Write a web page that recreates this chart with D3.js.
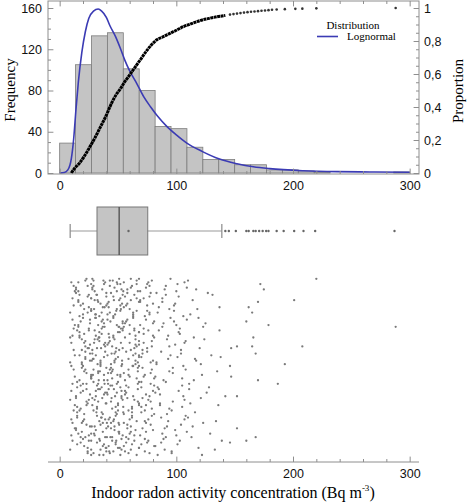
<!DOCTYPE html>
<html>
<head>
<meta charset="utf-8">
<script src="https://cdn.jsdelivr.net/npm/d3@7"></script>
<style>
  body { margin: 0; background: #fff; }
  svg { font-family: "Liberation Serif", "Times New Roman", serif; }
  .axis text { font-size: 12.5px; fill: #111; }
</style>
</head>
<body>
<svg id="chart" width="474" height="503"></svg>
<script>
// histogram counts, 22 bins of equal width over 0-300
const binWidth = 300 / 22;
const binCounts = [29, 105, 133, 136, 101, 80, 45, 43, 25, 13, 13, 8, 8, 3, 3, 2, 1, 0, 0, 0, 0, 1];

// fitted lognormal curve (frequency scale)
const lognormX = [0, 4, 7, 10, 12, 14, 16, 19, 22, 25, 29, 33, 36, 40, 43, 48, 52, 56, 60, 66, 72, 78, 84, 92, 100, 109, 122, 137, 152, 166, 180, 209, 238, 266, 300];
const lognormY = [0, 0.5, 3, 14, 33, 62, 88, 117, 137, 150, 157, 159, 157, 151, 143, 132, 121, 109, 99, 87, 74, 64, 55, 45, 37, 29, 21, 13.5, 9, 6, 4.2, 2.2, 1.3, 1, 0.7];

// cumulative proportion (black dots)
const ecdfX = [10, 13, 17, 21, 26, 30, 35, 40, 43, 48, 52, 56, 60, 65, 69, 75, 83, 90, 95, 100, 106, 113, 120, 128, 135, 142];
const ecdfP = [0, 0.03, 0.06, 0.10, 0.16, 0.21, 0.28, 0.35, 0.40, 0.47, 0.51, 0.555, 0.594, 0.645, 0.685, 0.745, 0.806, 0.83, 0.848, 0.865, 0.887, 0.905, 0.923, 0.937, 0.947, 0.955];
const ecdfTailX = [146, 149, 152, 155, 158, 161, 164, 167, 170, 173, 176, 179, 182, 186, 193, 202, 208, 220, 288];
const ecdfTailP = [0.960, 0.963, 0.966, 0.969, 0.972, 0.975, 0.977, 0.979, 0.981, 0.983, 0.985, 0.987, 0.989, 0.991, 0.993, 0.995, 0.996, 0.998, 1.0];

// box plot: lower whisker, Q1, median, Q3, upper whisker
const boxStats = [9, 32, 51, 75.5, 139];
const meanValue = 59;
const outliers = [142, 145, 151, 160, 162, 166, 168, 171, 174, 177, 179, 186, 192, 201, 209, 219, 287];

// individual measurements: [concentration, vertical jitter 0-100]
const dots = [
  [10,97],[12,71],[9,80],[13,44],[11,8],[10,63],[12,25],[9,52],[11,88],[13,15],[10,36],[12,59],[9,3],[11,67],[13,92],
  [10,20],[12,48],[9,31],[11,76],[13,56],[10,11],[12,84],[11,40],[13,28],[9,66],[12,95],[10,50],[13,73],[11,18],
  [21,47],[16,12],[25,83],[19,65],[27,3],[14,91],[23,28],[17,56],[26,74],[20,19],
  [15,38],[24,95],[18,7],[22,61],[27,44],[16,86],[21,23],[25,70],[14,15],[19,52],
  [23,99],[26,34],[17,67],[20,9],[24,80],[15,41],[22,58],[18,26],[27,88],[21,5],
  [16,73],[25,31],[19,49],[23,17],[14,94],[26,62],[20,36],[17,78],[24,1],[22,55],
  [15,22],[18,84],[27,43],[21,68],[25,11],[16,97],[23,30],[19,59],[26,76],[14,14],
  [20,50],[24,89],[17,25],[22,64],[15,6],[27,81],[18,39],[25,71],[21,20],[16,92],
  [23,46],[19,13],[26,57],[20,85],[14,33],[24,2],[17,69],[22,48],[27,96],[15,27],
  [18,75],[25,8],[21,63],[23,40],[16,87],[19,18],[26,53],[14,32],[20,79],[24,4],
  [17,66],[27,45],[22,98],[15,24],[25,60],[18,10],[21,82],[23,37],[16,72],[26,16],
  [19,51],[14,93],[24,29],[20,77],[17,42],[27,0],[22,54],[15,21],[25,90],[18,35],
  [20,40],[17,90],[24,60],[15,70],[22,10],
  [34,78],[29,1],[38,55],[32,22],[40,84],[27,43],[36,68],[30,11],[39,97],[33,30],
  [28,59],[37,76],[31,14],[35,50],[40,89],[29,25],[34,64],[38,6],[27,81],[32,39],
  [36,71],[39,20],[30,92],[33,46],[37,13],[28,57],[35,85],[31,33],[40,2],[34,69],
  [29,48],[38,96],[32,27],[36,75],[27,8],[39,63],[33,40],[30,87],[37,18],[35,53],
  [28,32],[31,79],[40,4],[34,66],[38,45],[29,98],[36,24],[32,60],[39,10],[27,82],
  [33,37],[37,72],[30,16],[35,51],[28,93],[40,29],[31,77],[38,42],[34,0],[29,54],
  [36,21],[32,90],[39,35],[33,47],[27,12],[37,83],[30,65],[35,3],[40,91],[28,28],
  [31,56],[38,74],[34,19],[36,38],[29,95],[32,7],[39,61],[27,44],[33,86],[37,23],
  [30,70],[40,15],[35,52],[28,99],[38,34],[31,67],[34,9],[36,80],[29,41],[39,58],
  [32,26],[27,88],[37,5],[33,73],[30,31],[40,49],[35,17],[28,94],[38,62],[31,36],
  [34.5,8],[29.5,63],[38.5,40],[32.5,87],[40.5,18],[27.5,53],[36.5,32],[30.5,79],[39.5,4],[33.5,66],
  [28.5,45],[37.5,98],[31.5,24],[35.5,60],[40.5,10],[29.5,82],[34.5,37],[38.5,72],[27.5,16],[32.5,51],
  [36.5,93],[39.5,29],[30.5,77],[33.5,42],[37.5,0],[28.5,54],[35.5,21],[31.5,90],[40.5,35],[34.5,47],
  [29.5,12],[38.5,83],[32.5,65],
  [45,61],[52,44],[42,86],[49,23],[54,70],[44,15],[47,52],[51,99],[41,34],[46,67],
  [53,9],[43,80],[50,41],[48,58],[45,26],[52,88],[42,5],[49,73],[54,31],[44,49],
  [51,17],[47,94],[41,62],[53,36],[46,78],[43,1],[50,55],[48,22],[52,84],[45,43],
  [42,68],[54,11],[49,97],[44,30],[51,59],[41,76],[47,14],[53,50],[46,89],[50,25],
  [43,64],[48,6],[52,81],[45,39],[54,71],[42,20],[49,92],[44,46],[51,13],[47,57],
  [41,85],[53,33],[46,2],[50,69],[43,48],[52,96],[48,27],[54,75],[45,8],[42,63],
  [49,40],[51,87],[44,18],[47,53],[53,32],[41,79],[50,4],[46,66],[52,45],[43,98],
  [48,24],[54,60],[45,10],[49,82],[42,37],[51,72],[47,16],[44,51],[53,93],[50,29],
  [46,77],[41,42],[52,0],[48,54],[43,21],[54,90],[49,35],[45,47],[51,12],[42,83],
  [47,65],[53,3],[44,91],[50,28],[41,56],[54,74],[46,19],[52,38],[43,95],[48,7],
  [48.5,81],[43.5,39],[52.5,71],[46.5,20],[54.5,92],[41.5,46],[50.5,13],[44.5,57],[53.5,85],[47.5,33],
  [42.5,2],[51.5,69],[45.5,48],[49.5,96],[54.5,27],[43.5,75],[48.5,8],[52.5,63],[41.5,40],[46.5,87],
  [50.5,18],[53.5,53],[44.5,32],[47.5,79],[51.5,4],[42.5,66],[49.5,45],[45.5,98],[54.5,24],[48.5,60],
  [43.5,10],[52.5,82],[46.5,37],[50.5,72],[41.5,16],[53.5,51],
  [61,13],[65,57],[58,85],[63,33],[56,2],[68,69],[59,48],[66,96],[62,27],[57,75],
  [64,8],[60,63],[67,40],[61,87],[55,18],[65,53],[58,32],[63,79],[68,4],[56,66],
  [59,45],[66,98],[62,24],[64,60],[57,10],[60,82],[67,37],[55,72],[61,16],[65,51],
  [58,93],[68,29],[63,77],[56,42],[66,0],[59,54],[62,21],[64,90],[57,35],[67,47],
  [60,12],[55,83],[65,65],[61,3],[58,91],[68,28],[63,56],[56,74],[66,19],[59,38],
  [62,95],[57,7],[66,61],[60,44],[68,86],[55,23],[64,70],[58,15],[67,52],[61,99],
  [56,34],[65,67],[59,9],[63,80],[68,41],[57,58],[62,26],[66,88],[55,5],[60,73],
  [64,31],[67,49],[58,17],[61,94],[65,62],[56,36],[63,78],[59,1],[68,55],[62,22],
  [57,84],[66,43],[60,68],[64,11],[55,97],[67,30],[61,59],[58,76],[65,14],[63,50],
  [56,89],[59,25],[68,64],[62,6],[66,81],[57,39],[64,71],[60,20],[67,92],[55,46],
  [62.5,50],
  [78,91],[74,28],[68,56],[80,74],[73,19],[70,38],[77,95],[75,7],[79,61],[72,44],
  [69,86],[81,23],[76,70],[71,15],[78,52],[68,99],[74,34],[80,67],[73,9],[77,80],
  [70,41],[75,58],[79,26],[72,88],[81,5],[69,73],[76,31],[71,49],[78,17],[74,94],
  [68,62],[80,36],[73,78],[77,1],[70,55],[79,22],[75,84],[81,43],[72,68],[69,11],
  [76,97],[78,30],[71,59],[74,76],[80,14],[68,50],[77,89],[73,25],[79,64],[70,6],
  [75,81],[81,39],[72,71],[76,20],[69,92],[78,46],[74,13],[71,57],[80,85],[77,33],
  [73,2],[68,69],[79,48],[75,96],[70,27],[81,75],[76,8],[72,63],[78,40],[69,87],
  [74,18],[80,53],[71,32],[77,79],[68,4],[81,66],[73,45],[79,98],[70,24],[75,60],
  [91,10],[94,82],[85,37],[88,72],[92,16],[83,51],[90,93],[86,29],[95,77],[89,42],
  [84,0],[93,54],[87,21],[91,90],[82,35],[94,47],[88,12],[85,83],[92,65],[90,3],
  [83,91],[86,28],[95,56],[89,74],[93,19],[84,38],[91,95],[87,7],[94,61],[82,44],
  [88,86],[92,23],[85,70],[90,15],[83,52],[95,99],[86,34],[93,67],[89,9],[84,80],
  [91,41],[87,58],[94,26],[88,88],[82,5],
  [100,73],[107,31],[97,49],[104,17],[109,94],[99,62],[102,36],[106,78],[96,1],[101,55],
  [108,22],[98,84],[105,43],[103,68],[100,11],[107,97],[97,30],[104,59],[109,76],[99,14],
  [106,50],[102,89],[96,25],[108,64],[101,6],[98,81],[105,39],[103,71],[107,20],[100,92],
  [97,46],[109,13],[104,57],[99,85],[106,33],[96,2],[102,69],[108,48],[101,96],[105,27],
  [98,75],[103,8],[107,63],
  [111,40],[114,87],[123,18],[117,53],[121,32],[112,79],[119,4],[115,66],[122,45],[110,98],
  [116,24],[120,60],[113,10],[118,82],[111,37],[123,72],[114,16],[121,51],[117,93],[112,29],
  [119,77],[115,42],[122,0],[116,54],[110,21],
  [131,90],[126,35],[135,47],[129,12],[137,83],[124,65],[133,3],[127,91],[136,28],[130,56],
  [125,74],[134,19],[128,38],[138,55],[139,8],[137,70],[142,33],
  [220,99],[172,96],[175,93],[201,87],[170,86],[162,83],[165,80],[160,75],[179,73],[288,72],
  [166,66],[208,61],[165,61],[152,61],[147,60],[168,57],[193,51],[146,50],[147,44],[170,42],
  [187,40],[152,33],[152,15],[168,10],[160,8],[146,7]
];

const xTicks = d3.range(0, 301, 20);
const freqTicks = d3.range(0, 161, 10);
const propTicks = d3.range(0, 21).map(i => i / 20);

const svg = d3.select("#chart");

const x = d3.scaleLinear().domain([-10, 308]).range([48, 419]);
const yFreq = d3.scaleLinear().domain([0, 160]).range([173, 8]);
const yProp = d3.scaleLinear().domain([0, 1]).range([173, 8]);
const yJit = d3.scaleLinear().domain([0, 100]).range([455, 277]);
const boxY = 231;
const axisColor = "#8e8e8e";

// longer marks for the labelled ticks, domain path drawn separately
function tidy(g, isMajor, attr) {
  g.select(".domain").remove();
  g.selectAll(".tick line").attr("stroke", axisColor);
  g.selectAll(".tick").filter(isMajor).select("line")
    .attr(attr, function() { return +d3.select(this).attr(attr) * 1.8; });
}

const majorX = d => d % 100 === 0;
const majorFreq = d => d % 40 === 0;
const majorProp = d => Math.round(d * 20) % 4 === 0;
const fmtProp = d => d === 0 ? "0" : d === 1 ? "1" : d3.format(".1f")(d).replace(".", ",");

// ---- top panel: histogram, lognormal fit, cumulative proportion
const gHist = svg.append("g");

gHist.selectAll(".bar")
  .data(binCounts.map((c, i) => ({i, c})).filter(d => d.c > 0))
  .enter().append("rect")
    .attr("class", "bar")
    .attr("x", d => x(d.i * binWidth))
    .attr("width", d => x((d.i + 1) * binWidth) - x(d.i * binWidth))
    .attr("y", d => yFreq(d.c))
    .attr("height", d => yFreq(0) - yFreq(d.c))
    .attr("fill", "#c4c4c4")
    .attr("stroke", "#7c7c7c")
    .attr("stroke-width", 0.8);

gHist.append("path")
  .datum(lognormX.map((v, i) => [v, lognormY[i]]))
  .attr("fill", "none")
  .attr("stroke", "#3b3bb4")
  .attr("stroke-width", 1.6)
  .attr("d", d3.line().x(d => x(d[0])).y(d => yFreq(d[1])).curve(d3.curveMonotoneX));

gHist.append("path")
  .datum(ecdfX.map((v, i) => [v, ecdfP[i]]))
  .attr("fill", "none")
  .attr("stroke", "#000")
  .attr("stroke-width", 3)
  .attr("stroke-dasharray", "3,0.5")
  .attr("d", d3.line().x(d => x(d[0])).y(d => yProp(d[1])).curve(d3.curveMonotoneX));

gHist.selectAll(".ecdf-tail")
  .data(ecdfTailX.map((v, i) => [v, ecdfTailP[i]]))
  .enter().append("circle")
    .attr("class", "ecdf-tail")
    .attr("cx", d => x(d[0]))
    .attr("cy", d => yProp(d[1]))
    .attr("r", 1.3)
    .attr("fill", "#333");

gHist.append("rect")
  .attr("x", 48).attr("y", 1).attr("width", 371).attr("height", 173)
  .attr("fill", "none").attr("stroke", axisColor);

gHist.append("g").attr("class", "axis").attr("transform", "translate(0,174)")
  .call(d3.axisBottom(x).tickValues(xTicks).tickFormat(d => majorX(d) ? d : "").tickSize(-3).tickPadding(7))
  .call(g => tidy(g, majorX, "y2"));

gHist.append("g").attr("class", "axis").attr("transform", "translate(0,1)")
  .call(d3.axisTop(x).tickValues(xTicks).tickFormat("").tickSize(-3))
  .call(g => tidy(g, majorX, "y2"));

gHist.append("g").attr("class", "axis").attr("transform", "translate(48,0)")
  .call(d3.axisLeft(yFreq).tickValues(freqTicks).tickFormat(d => majorFreq(d) ? d : "").tickSize(-3).tickPadding(6))
  .call(g => tidy(g, majorFreq, "x2"));

gHist.append("g").attr("class", "axis").attr("transform", "translate(419,0)")
  .call(d3.axisRight(yProp).tickValues(propTicks).tickFormat(d => majorProp(d) ? fmtProp(d) : "").tickSize(-3).tickPadding(5))
  .call(g => tidy(g, majorProp, "x2"));

gHist.append("text")
  .attr("transform", "translate(15,90) rotate(-90)")
  .attr("text-anchor", "middle")
  .attr("font-size", 15)
  .text("Frequency");

gHist.append("text")
  .attr("transform", "translate(463,91) rotate(-90)")
  .attr("text-anchor", "middle")
  .attr("font-size", 15)
  .text("Proportion");

// legend
gHist.append("text")
  .attr("x", 353).attr("y", 28.5)
  .attr("text-anchor", "middle")
  .attr("font-size", 11)
  .text("Distribution");
gHist.append("line")
  .attr("x1", 317).attr("x2", 338).attr("y1", 36.5).attr("y2", 36.5)
  .attr("stroke", "#3b3bb4").attr("stroke-width", 1.6);
gHist.append("text")
  .attr("x", 347).attr("y", 39.5)
  .attr("font-size", 11)
  .text("Lognormal");

// ---- box plot
const gBox = svg.append("g");

gBox.append("line")
  .attr("x1", x(boxStats[0])).attr("x2", x(boxStats[4]))
  .attr("y1", boxY).attr("y2", boxY)
  .attr("stroke", "#9a9a9a").attr("stroke-width", 1.2);

gBox.selectAll(".cap")
  .data([boxStats[0], boxStats[4]])
  .enter().append("line")
    .attr("class", "cap")
    .attr("x1", d => x(d)).attr("x2", d => x(d))
    .attr("y1", boxY - 7).attr("y2", boxY + 7)
    .attr("stroke", "#8a8a8a").attr("stroke-width", 1.2);

gBox.append("rect")
  .attr("x", x(boxStats[1]))
  .attr("width", x(boxStats[3]) - x(boxStats[1]))
  .attr("y", boxY - 24).attr("height", 48)
  .attr("fill", "#c4c4c4")
  .attr("stroke", "#777").attr("stroke-width", 1);

gBox.append("line")
  .attr("x1", x(boxStats[2])).attr("x2", x(boxStats[2]))
  .attr("y1", boxY - 24).attr("y2", boxY + 24)
  .attr("stroke", "#555").attr("stroke-width", 1.4);

gBox.append("circle")
  .attr("cx", x(meanValue)).attr("cy", boxY)
  .attr("r", 1.2).attr("fill", "#666");

gBox.selectAll(".outlier")
  .data(outliers)
  .enter().append("circle")
    .attr("class", "outlier")
    .attr("cx", d => x(d)).attr("cy", boxY)
    .attr("r", 1.2).attr("fill", "#666");

// ---- jittered dot plot
const gDots = svg.append("g");

gDots.selectAll(".dot")
  .data(dots)
  .enter().append("circle")
    .attr("class", "dot")
    .attr("cx", d => x(d[0]))
    .attr("cy", d => yJit(d[1]))
    .attr("r", 1.15)
    .attr("fill", "#7a7a7a");

gDots.append("line")
  .attr("x1", 48).attr("x2", 419).attr("y1", 462).attr("y2", 462)
  .attr("stroke", axisColor);

gDots.append("g").attr("class", "axis").attr("transform", "translate(0,462)")
  .call(d3.axisBottom(x).tickValues(xTicks).tickFormat(d => majorX(d) ? d : "").tickSize(-3).tickPadding(7))
  .call(g => tidy(g, majorX, "y2"));

const title = gDots.append("text")
  .attr("x", 233).attr("y", 498)
  .attr("text-anchor", "middle")
  .attr("font-size", 16);
title.append("tspan").text("Indoor radon activity concentration (Bq m");
title.append("tspan").attr("font-size", 9).attr("dy", -7).text("-3");
title.append("tspan").attr("dy", 7).text(")");
</script>
</body>
</html>
